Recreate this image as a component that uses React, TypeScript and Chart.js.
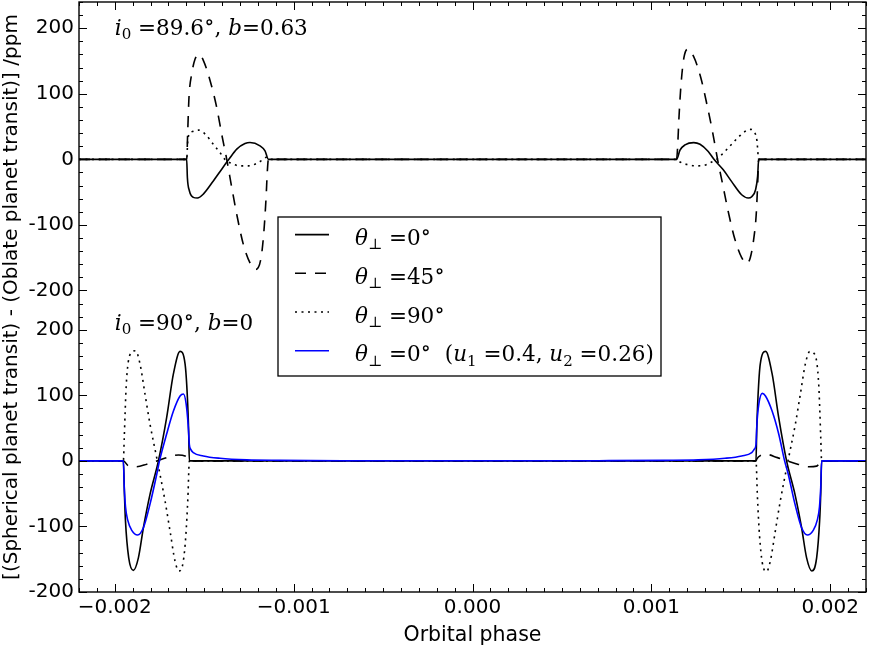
import React, { useEffect, useRef } from "react";
import { Chart, registerables } from "chart.js";

Chart.register(...registerables);

// ---------------- axes ----------------
const xRange = [-0.0022, 0.0022];
const yRange = [-200, 700];
const panelOffset = 460; // the upper panel (i0 = 89.6°) is shifted up by this many ppm
const xTickValues = [-0.002, -0.001, 0, 0.001, 0.002];
const xTickLabels = ["\u22120.002", "\u22120.001", "0.000", "0.001", "0.002"];
const yTickValues = [-200, -100, 0, 100, 200, 260, 360, 460, 560, 660];
const yTickLabels = ["-200", "-100", "0", "100", "200", "-200", "-100", "0", "100", "200"];
const xMinorStep = 0.0001;
const yMinorStep = 20;

// ---------------- data (phase in units of 1e-3, values in ppm) ----------------
// upper panel: i0 = 89.6°, b = 0.63
const topSolidPhaseL = [-1.598, -1.594, -1.583, -1.561, -1.538, -1.505, -1.449, -1.402, -1.362, -1.318, -1.272, -1.244, -1.188, -1.16, -1.141];
const topSolidValueL = [0, -28, -48, -58, -59, -53, -33, -15, 0, 15.6, 24, 25.7, 20.6, 13, 0];
const topSolidPhaseR = [1.141, 1.16, 1.188, 1.237, 1.272, 1.318, 1.35, 1.402, 1.449, 1.505, 1.542, 1.561, 1.583, 1.594, 1.6];
const topSolidValueR = [0, 14, 22, 25.5, 23, 12, 0, -16, -34, -54, -59, -57, -46, -26, 0];

const topDashPhaseL = [-1.598, -1.592, -1.585, -1.57, -1.551, -1.529, -1.505, -1.467, -1.43, -1.402, -1.374, -1.346, -1.318, -1.281, -1.244, -1.212, -1.182, -1.166, -1.154, -1.147, -1.141];
const topDashValueL = [0, 44, 95, 130, 153, 160, 151, 120, 79, 38, 0, -43, -84, -130, -158, -168, -150, -109, -58, -18, 0];
const topDashPhaseR = [1.141, 1.147, 1.154, 1.166, 1.182, 1.203, 1.236, 1.275, 1.312, 1.342, 1.37, 1.4, 1.43, 1.467, 1.505, 1.533, 1.553, 1.572, 1.586, 1.594, 1.6];
const topDashValueR = [0, 20, 62, 115, 155, 168, 157, 126, 82, 42, 0, -40, -80, -122, -150, -159, -150, -122, -85, -40, 0];

const topDotPhaseL = [-1.598, -1.592, -1.583, -1.561, -1.533, -1.495, -1.449, -1.411, -1.384, -1.346, -1.3, -1.253, -1.207, -1.169, -1.154, -1.141];
const topDotValueL = [0, 28, 38.5, 43, 44.6, 38.5, 23, 10, 0, -6.4, -10, -10, -6.4, 0, 3, 0];
const topDotPhaseR = [1.141, 1.16, 1.2, 1.25, 1.29, 1.33, 1.365, 1.4, 1.449, 1.495, 1.551, 1.575, 1.59, 1.6];
const topDotValueR = [0, -4, -8, -10, -9.5, -5, 0, 9, 23, 36, 45.7, 42, 29, 0];

// lower panel: i0 = 90°, b = 0
const botSolidPhaseL = [-1.952, -1.946, -1.9405, -1.922, -1.896, -1.868, -1.84, -1.803, -1.756, -1.71, -1.672, -1.635, -1.607, -1.594, -1.587, -1.583];
const botSolidValueL = [0, -50, -90, -148, -167, -148, -102, -51, 0, 66, 133, 167, 148, 97, 46, 0];
const botSolidPhaseR = [1.585, 1.589, 1.596, 1.609, 1.639, 1.675, 1.712, 1.756, 1.803, 1.84, 1.868, 1.897, 1.924, 1.941, 1.947, 1.952];
const botSolidValueR = [0, 46, 97, 148, 167, 133, 66, 0, -51, -102, -148, -168, -148, -90, -50, 0];

const botDashPhaseL = [-1.952, -1.924, -1.877, -1.821, -1.765, -1.71, -1.644, -1.607, -1.588, -1.583];
const botDashValueL = [0, -7.6, -9, -5, 0, 5, 9, 7.6, 2.5, 0];
const botDashPhaseR = [1.585, 1.59, 1.609, 1.64, 1.705, 1.76, 1.818, 1.88, 1.924, 1.952];
const botDashValueR = [0, 3, 8, 10, 5, 0, -5, -9, -8, 0];

const botDotPhaseL = [-1.952, -1.947, -1.942, -1.936, -1.925, -1.908, -1.884, -1.859, -1.831, -1.803, -1.762, -1.719, -1.691, -1.663, -1.641, -1.618, -1.603, -1.591, -1.583];
const botDotValueL = [0, 35, 75, 115, 150, 165, 168, 148, 102, 56, 0, -61, -107, -153, -168, -155, -115, -55, 0];
const botDotPhaseR = [1.585, 1.593, 1.605, 1.62, 1.643, 1.665, 1.693, 1.721, 1.764, 1.805, 1.833, 1.861, 1.886, 1.906, 1.925, 1.936, 1.942, 1.947, 1.952];
const botDotValueR = [0, -55, -115, -155, -169, -153, -107, -61, 0, 56, 102, 148, 167, 165, 150, 115, 75, 35, 0];

const botBluePhaseL = [-1.952, -1.947, -1.94, -1.928, -1.905, -1.872, -1.84, -1.803, -1.765, -1.75, -1.71, -1.672, -1.635, -1.616, -1.601, -1.59, -1.583, -1.576, -1.561, -1.505, -1.412, -1.262, -1.076, -0.707, 0];
const botBlueValueL = [0, -40, -70, -90, -106, -113, -102, -66, -20, 0, 41, 76, 99, 102, 87, 56, 25, 18, 12.7, 7.6, 4, 1.5, 0.8, 0.3, 0.1];
const botBluePhaseR = [0.707, 1.076, 1.262, 1.412, 1.505, 1.561, 1.576, 1.585, 1.59, 1.601, 1.62, 1.638, 1.675, 1.712, 1.745, 1.765, 1.803, 1.84, 1.872, 1.905, 1.928, 1.94, 1.947, 1.952];
const botBlueValueR = [0.3, 0.8, 1.5, 4, 7.6, 12.7, 18, 25, 56, 87, 103, 99, 76, 41, 0, -20, -66, -102, -113, -106, -90, -70, -40, 0];

// ---------------- text ----------------
type Run = { t: string; it?: boolean; sub?: boolean; deg?: boolean };
const DEG = "\u2218";
const annotTop: Run[] = [{ t: "i", it: true }, { t: "0", sub: true }, { t: " =89.6" }, { t: DEG, deg: true }, { t: ", " }, { t: "b", it: true }, { t: "=0.63" }];
const annotBottom: Run[] = [{ t: "i", it: true }, { t: "0", sub: true }, { t: " =90" }, { t: DEG, deg: true }, { t: ", " }, { t: "b", it: true }, { t: "=0" }];
const annotX = -0.002;
const annotY = [650, 200];

const legendRows: { ds: number; runs: Run[] }[] = [
  { ds: 3, runs: [{ t: "\u03b8", it: true }, { t: "\u22a5", sub: true }, { t: " =0" }, { t: DEG, deg: true }] },
  { ds: 4, runs: [{ t: "\u03b8", it: true }, { t: "\u22a5", sub: true }, { t: " =45" }, { t: DEG, deg: true }] },
  { ds: 5, runs: [{ t: "\u03b8", it: true }, { t: "\u22a5", sub: true }, { t: " =90" }, { t: DEG, deg: true }] },
  {
    ds: 6,
    runs: [
      { t: "\u03b8", it: true }, { t: "\u22a5", sub: true }, { t: " =0" }, { t: DEG, deg: true },
      { t: "  (" }, { t: "u", it: true }, { t: "1", sub: true }, { t: " =0.4, " },
      { t: "u", it: true }, { t: "2", sub: true }, { t: " =0.26)" },
    ],
  },
];

const MATH_FONT = "'DejaVu Serif', 'Liberation Serif', serif";
const SANS = "'DejaVu Sans', 'Liberation Sans', sans-serif";
const MATH_SIZE = 21.5;

function buildSeries(phL: number[], vL: number[], phR: number[], vR: number[], offset: number) {
  const pts: { x: number; y: number }[] = [{ x: xRange[0], y: offset }];
  phL.forEach((p, i) => pts.push({ x: p * 1e-3, y: vL[i] + offset }));
  phR.forEach((p, i) => pts.push({ x: p * 1e-3, y: vR[i] + offset }));
  pts.push({ x: xRange[1], y: offset });
  return pts;
}

function drawRuns(ctx: CanvasRenderingContext2D, runs: Run[], x: number, y: number, size: number) {
  let cx = x;
  for (const r of runs) {
    const s = r.sub ? size * 0.7 : size;
    ctx.font = `${r.it ? "italic " : ""}${s}px ${MATH_FONT}`;
    const dy = r.sub ? size * 0.2 : r.deg ? -size * 0.27 : 0;
    ctx.fillText(r.t, cx, y + dy);
    cx += ctx.measureText(r.t).width;
  }
  return cx;
}

const decorPlugin = {
  id: "mplDecor",
  afterDraw(chart: any) {
    const { ctx, chartArea: a } = chart;
    const xs = chart.scales.x;
    const ys = chart.scales.y;
    ctx.save();
    ctx.strokeStyle = "#000";
    ctx.fillStyle = "#000";
    // ticks (inward, all four sides)
    ctx.lineWidth = 1;
    ctx.beginPath();
    const nx = Math.round((xRange[1] - xRange[0]) / xMinorStep);
    for (let k = 0; k <= nx; k++) {
      const v = xRange[0] + k * xMinorStep;
      const major = xTickValues.some((t) => Math.abs(t - v) < 1e-9);
      const len = major ? 8 : 4;
      const px = Math.round(xs.getPixelForValue(v)) + 0.5;
      ctx.moveTo(px, a.bottom);
      ctx.lineTo(px, a.bottom - len);
      ctx.moveTo(px, a.top);
      ctx.lineTo(px, a.top + len);
    }
    for (let v = yRange[0]; v <= yRange[1]; v += yMinorStep) {
      const major = yTickValues.includes(v);
      const len = major ? 8 : 4;
      const py = Math.round(ys.getPixelForValue(v)) + 0.5;
      ctx.moveTo(a.left, py);
      ctx.lineTo(a.left + len, py);
      ctx.moveTo(a.right, py);
      ctx.lineTo(a.right - len, py);
    }
    ctx.stroke();
    // frame
    ctx.lineWidth = 1.4;
    ctx.strokeRect(a.left, a.top, a.right - a.left, a.bottom - a.top);

    // panel annotations
    ctx.textAlign = "left";
    ctx.textBaseline = "alphabetic";
    drawRuns(ctx, annotTop, xs.getPixelForValue(annotX), ys.getPixelForValue(annotY[0]), MATH_SIZE);
    drawRuns(ctx, annotBottom, xs.getPixelForValue(annotX), ys.getPixelForValue(annotY[1]), MATH_SIZE);

    // legend
    const bx = a.left + 199;
    const by = a.top + 215;
    const bw = 383;
    const bh = 159;
    ctx.fillStyle = "#fff";
    ctx.fillRect(bx, by, bw, bh);
    ctx.lineWidth = 1.3;
    ctx.strokeStyle = "#000";
    ctx.strokeRect(bx, by, bw, bh);
    legendRows.forEach((row, i) => {
      const ds = chart.data.datasets[row.ds];
      const ly = by + 17.6 + i * 38.7;
      ctx.save();
      ctx.strokeStyle = ds.borderColor;
      ctx.lineWidth = ds.borderWidth;
      ctx.setLineDash(ds.borderDash || []);
      ctx.beginPath();
      ctx.moveTo(bx + 17, ly);
      ctx.lineTo(bx + 51, ly);
      ctx.stroke();
      ctx.restore();
      ctx.fillStyle = "#000";
      drawRuns(ctx, row.runs, bx + 77, ly + 10.5, MATH_SIZE);
    });
    ctx.restore();
  },
};

const solidStyle = { borderColor: "#000000", borderWidth: 1.6, borderDash: [] as number[] };
const dashStyle = { borderColor: "#000000", borderWidth: 1.6, borderDash: [11, 9] };
const dotStyle = { borderColor: "#000000", borderWidth: 1.6, borderDash: [2, 4.5] };
const blueStyle = { borderColor: "#0000ff", borderWidth: 1.6, borderDash: [] as number[] };

export default function App() {
  const ref = useRef<HTMLCanvasElement>(null);
  useEffect(() => {
    if (!ref.current) return;
    const common = { pointRadius: 0, fill: false, cubicInterpolationMode: "monotone" as const };
    const datasets: any[] = [
      { label: "top0", data: buildSeries(topSolidPhaseL, topSolidValueL, topSolidPhaseR, topSolidValueR, panelOffset), ...solidStyle, ...common, order: 3 },
      { label: "top45", data: buildSeries(topDashPhaseL, topDashValueL, topDashPhaseR, topDashValueR, panelOffset), ...dashStyle, ...common, order: 2 },
      { label: "top90", data: buildSeries(topDotPhaseL, topDotValueL, topDotPhaseR, topDotValueR, panelOffset), ...dotStyle, ...common, order: 1 },
      { label: "bot0", data: buildSeries(botSolidPhaseL, botSolidValueL, botSolidPhaseR, botSolidValueR, 0), ...solidStyle, ...common, order: 3 },
      { label: "bot45", data: buildSeries(botDashPhaseL, botDashValueL, botDashPhaseR, botDashValueR, 0), ...dashStyle, ...common, order: 2 },
      { label: "bot90", data: buildSeries(botDotPhaseL, botDotValueL, botDotPhaseR, botDotValueR, 0), ...dotStyle, ...common, order: 1 },
      { label: "botLD", data: buildSeries(botBluePhaseL, botBlueValueL, botBluePhaseR, botBlueValueR, 0), ...blueStyle, ...common, order: 0 },
    ];
    const chart = new Chart(ref.current, {
      type: "line",
      data: { datasets },
      options: {
        animation: false,
        responsive: false,
        layout: { padding: { left: 0, top: 2, right: 3, bottom: 0 } },
        plugins: { legend: { display: false }, tooltip: { enabled: false } },
        scales: {
          x: {
            type: "linear",
            min: xRange[0],
            max: xRange[1],
            grid: { display: false, drawTicks: false },
            border: { display: false },
            afterBuildTicks: (s: any) => {
              s.ticks = xTickValues.map((v) => ({ value: v }));
            },
            afterFit: (s: any) => {
              s.height = 55;
              s.paddingLeft = 0;
              s.paddingRight = 0;
            },
            ticks: {
              autoSkip: false,
              maxRotation: 0,
              padding: 4,
              color: "#000",
              font: { family: SANS, size: 20 },
              callback: (v: any) => {
                const i = xTickValues.findIndex((t) => Math.abs(t - Number(v)) < 1e-9);
                return i >= 0 ? xTickLabels[i] : "";
              },
            },
            title: {
              display: true,
              text: "Orbital phase",
              color: "#000",
              font: { family: SANS, size: 20.5, lineHeight: 1.15 },
              padding: { top: 0, bottom: 0 },
            },
          },
          y: {
            type: "linear",
            min: yRange[0],
            max: yRange[1],
            grid: { display: false, drawTicks: false },
            border: { display: false },
            afterBuildTicks: (s: any) => {
              s.ticks = yTickValues.map((v) => ({ value: v }));
            },
            afterFit: (s: any) => {
              s.width = 79;
              s.paddingTop = 0;
              s.paddingBottom = 0;
            },
            ticks: {
              autoSkip: false,
              padding: 5,
              color: "#000",
              font: { family: SANS, size: 20 },
              callback: (v: any) => {
                const i = yTickValues.indexOf(Number(v));
                return i >= 0 ? yTickLabels[i] : "";
              },
            },
            title: {
              display: true,
              text: "[(Spherical planet transit) - (Oblate planet transit)] /ppm",
              color: "#000",
              font: { family: SANS, size: 20, lineHeight: 1.2 },
              padding: { top: 0, bottom: 0 },
            },
          },
        },
      },
      plugins: [decorPlugin],
    });
    return () => chart.destroy();
  }, []);
  return (
    <div style={{ position: "absolute", left: 0, top: 0, width: 869, height: 647, background: "#fff" }}>
      <canvas ref={ref} width={869} height={647} style={{ display: "block" }} />
    </div>
  );
}
